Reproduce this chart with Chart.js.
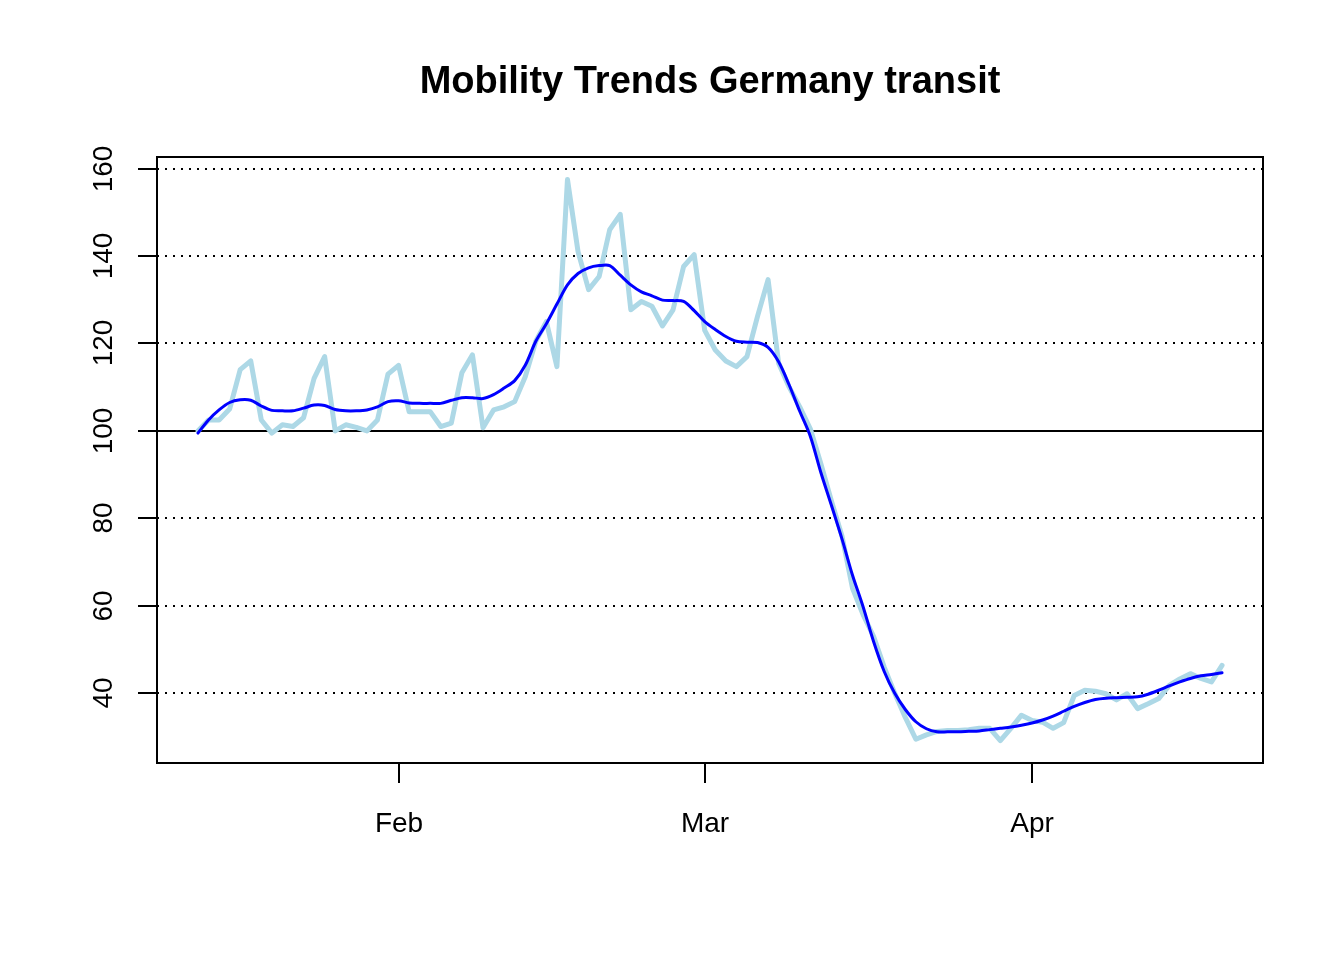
<!DOCTYPE html>
<html>
<head>
<meta charset="utf-8">
<title>Mobility Trends Germany transit</title>
<script src="https://cdn.jsdelivr.net/npm/chart.js@4.4.1/dist/chart.umd.min.js"></script>
<style>
    html, body { margin: 0; padding: 0; background: #ffffff; }
    canvas { display: block; }
</style>
</head>
<body>
<canvas id="mobilityChart" width="1344" height="960"></canvas>
<script>
// ===================== DATA =====================
// one value per day, day 0 = 2020-01-13
const rawTransit = [
    100, 102.5, 102.5, 105, 114, 116, 102.5, 99.5, 101.4, 101,
    103, 112, 117, 100, 101.4, 100.8, 100, 102.5, 113, 115,
    104.4, 104.4, 104.4, 101, 101.8, 113.3, 117.4, 100.7, 104.8, 105.5,
    106.7, 112.4, 120.5, 125, 114.7, 157.5, 141, 132.3, 135.3, 146,
    149.5, 127.7, 129.6, 128.5, 124, 127.7, 137.6, 140.3, 123, 118.5,
    116, 114.7, 117, 126.2, 134.6, 115.5, 110, 105.5, 100.5, 92.5,
    84, 76, 64, 58, 53, 46, 40, 34.5, 29.5, 30.5,
    31.3, 31.5, 31.5, 31.7, 32, 32, 29.2, 32, 35, 33.8,
    33.4, 32, 33.3, 39.5, 40.7, 40.5, 39.9, 38.5, 39.9, 36.5,
    37.6, 38.8, 41.8, 43.3, 44.5, 43.4, 42.6, 46.4
];
const smoothTransit = [
    99.5, 102.5, 104.8, 106.5, 107.1, 107, 105.7, 104.7, 104.6, 104.6,
    105.2, 105.9, 105.8, 104.9, 104.6, 104.6, 104.8, 105.5, 106.7, 106.9,
    106.4, 106.3, 106.3, 106.3, 107, 107.6, 107.6, 107.4, 108.3, 109.8,
    111.5, 115, 120.5, 124.5, 129, 133.4, 136, 137.3, 137.8, 137.8,
    135.6, 133.4, 131.8, 130.9, 129.9, 129.8, 129.6, 127.5, 125, 123.2,
    121.6, 120.5, 120.3, 120.2, 119.1, 115.8, 110.5, 104.5, 98.8, 90.5,
    83, 75.3, 67, 59.8, 51.8, 45, 40, 36.3, 33.5, 31.9,
    31.2, 31.2, 31.2, 31.3, 31.4, 31.7, 32, 32.3, 32.7, 33.2,
    33.9, 34.8, 35.9, 37, 37.9, 38.6, 38.9, 39, 39.1, 39.2,
    39.8, 40.7, 41.7, 42.6, 43.4, 44, 44.3, 44.7
];
const monthTickDays = [19, 48, 79];
const monthTickLabels = ['Feb', 'Mar', 'Apr'];
const yTickValues = [40, 60, 80, 100, 120, 140, 160];
const chartTitle = 'Mobility Trends Germany transit';

const FONT = '"Liberation Sans", Arial, Helvetica, sans-serif';

// axis limits like R: data range + 4% on each side
function paddedRange(values) {
    const lo = Math.min(...values), hi = Math.max(...values);
    const pad = (hi - lo) * 0.04;
    return [lo - pad, hi + pad];
}
const [xMin, xMax] = paddedRange([0, rawTransit.length - 1]);
const [yMin, yMax] = paddedRange(rawTransit.concat(smoothTransit));

const toPoints = arr => arr.map((v, i) => ({ x: i, y: v }));

// ===================== BASE GRAPHICS PLUGIN =====================
const baseGraphics = {
    id: 'baseGraphics',
    beforeDatasetsDraw(chart) {
        const { ctx, chartArea: a, scales: { y } } = chart;
        ctx.save();
        ctx.strokeStyle = '#000000';
        ctx.lineWidth = 2;
        yTickValues.forEach(v => {
            const py = Math.round(y.getPixelForValue(v));
            ctx.setLineDash(v === 100 ? [] : [2, 6]);
            ctx.beginPath();
            ctx.moveTo(a.left, py);
            ctx.lineTo(a.right, py);
            ctx.stroke();
        });
        ctx.restore();
    },
    afterDraw(chart) {
        const { ctx, chartArea: a, scales: { x, y } } = chart;
        ctx.save();
        ctx.strokeStyle = '#000000';
        ctx.fillStyle = '#000000';
        ctx.lineWidth = 2;

        // box
        ctx.strokeRect(a.left, a.top, a.right - a.left, a.bottom - a.top);

        // x ticks + labels
        ctx.font = '28px ' + FONT;
        ctx.textAlign = 'center';
        ctx.textBaseline = 'alphabetic';
        monthTickDays.forEach((d, i) => {
            const px = Math.round(x.getPixelForValue(d));
            ctx.beginPath();
            ctx.moveTo(px, a.bottom);
            ctx.lineTo(px, a.bottom + 20);
            ctx.stroke();
            ctx.fillText(monthTickLabels[i], px, a.bottom + 69);
        });

        // y ticks + rotated labels
        yTickValues.forEach(v => {
            const py = Math.round(y.getPixelForValue(v));
            ctx.beginPath();
            ctx.moveTo(a.left - 19, py);
            ctx.lineTo(a.left, py);
            ctx.stroke();
            ctx.save();
            ctx.translate(a.left - 45, py);
            ctx.rotate(-Math.PI / 2);
            ctx.fillText(String(v), 0, 0);
            ctx.restore();
        });

        // title
        ctx.font = 'bold 38px ' + FONT;
        ctx.fillText(chartTitle, (a.left + a.right) / 2, 93);
        ctx.restore();
    }
};

// ===================== CHART =====================
const ctx = document.getElementById('mobilityChart').getContext('2d');
const mobilityChart = new Chart(ctx, {
    type: 'line',
    data: {
        datasets: [{
            label: 'smoothed',
            data: toPoints(smoothTransit),
            borderColor: '#0000FF',
            borderWidth: 3,
            pointRadius: 0,
            tension: 0.3,
            borderCapStyle: 'round',
            borderJoinStyle: 'round',
            fill: false
        }, {
            label: 'transit',
            data: toPoints(rawTransit),
            borderColor: '#ADD8E6',
            borderWidth: 5,
            pointRadius: 0,
            tension: 0,
            borderCapStyle: 'round',
            borderJoinStyle: 'round',
            fill: false
        }]
    },
    options: {
        responsive: false,
        devicePixelRatio: 1,
        animation: false,
        layout: {
            padding: { left: 157, right: 81, top: 157, bottom: 197 }
        },
        plugins: {
            legend: { display: false },
            tooltip: { enabled: false },
            title: { display: false }
        },
        scales: {
            x: { type: 'linear', min: xMin, max: xMax, display: false },
            y: { type: 'linear', min: yMin, max: yMax, display: false }
        }
    },
    plugins: [baseGraphics]
});
</script>
</body>
</html>
